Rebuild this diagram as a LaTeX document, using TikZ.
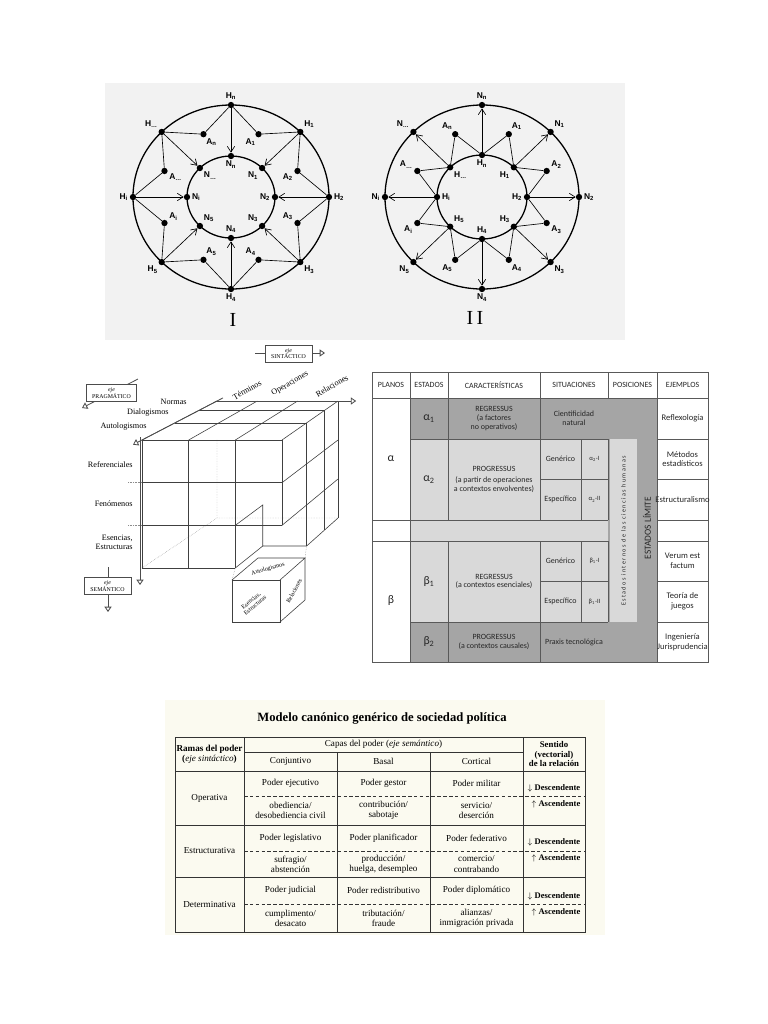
\documentclass[tikz,border=0pt]{standalone}
\usepackage{fontspec}
\setmainfont{Liberation Serif}
\newfontfamily\tabfont{Carlito}
\newfontfamily\widefont[LetterSpace=22]{Carlito}
\newfontfamily\labfont{Liberation Sans}
\usetikzlibrary{arrows.meta, positioning, calc}
\definecolor{panelgray}{HTML}{F2F2F2}
\definecolor{cream}{HTML}{FBFAF0}
\definecolor{darkcell}{HTML}{A5A5A5}
\definecolor{lightcell}{HTML}{D9D9D9}
\definecolor{tabrule}{HTML}{595959}

\begin{document}
\begin{tikzpicture}[
    x=0.03cm, y=-0.03cm,
    dot/.style={circle, fill, inner sep=0pt, minimum size=5.4pt},
    lab/.style={font=\labfont\bfseries\fontsize{7.2}{8}\selectfont, inner sep=1.2pt},
    ring/.style={line width=1.1pt},
    spoke/.style={line width=0.55pt},
    arr/.style={spoke, -{Straight Barb[length=1.7mm, width=2.2mm]}},
    cube/.style={line width=0.5pt, black!75},
    hidden/.style={line width=0.4pt, black!45, densely dotted},
    axisarr/.style={line width=0.7pt, black!70, -{Triangle[open, length=4.5pt, width=6pt]}},
    axbox/.style={draw=black!70, fill=white, line width=0.5pt, minimum width=1.4cm, minimum height=0.5cm, inner sep=1pt, align=center, font=\fontsize{5}{5.5}\selectfont},
    clab/.style={font=\fontsize{7}{7.5}\selectfont, inner sep=1pt, align=right},
    slab/.style={font=\fontsize{5.2}{5.4}\selectfont, inner sep=0pt, align=center},
    tcell/.style={font=\tabfont\fontsize{6.8}{7.6}\selectfont, align=center, text=black!85, inner sep=0pt},
    pcell/.style={font=\fontsize{7.8}{8.6}\selectfont, align=center, inner sep=0pt},
    tabline/.style={tabrule, line width=0.5pt},
    pline/.style={black!80, line width=0.6pt}
  ]
  \fill[white] (0,0) rectangle (768,1024);
  \useasboundingbox (0,0) rectangle (768,1024);

  % I and II
  \fill[panelgray] (105,83) rectangle (625,340);
  \coordinate (Ic) at (231,197);
  \coordinate (IIc) at (482,197);
  \draw[ring] (Ic) ellipse [x radius=2.94cm, y radius=2.76cm];
  \draw[ring] (Ic) ellipse [x radius=1.32cm, y radius=1.23cm];
  \draw[ring] (IIc) ellipse [x radius=2.91cm, y radius=2.76cm];
  \draw[ring] (IIc) ellipse [x radius=1.35cm, y radius=1.26cm];

  \foreach \nm [count=\k from 0] in {n,1,2,3,4,5,i,\ldots} {
    \pgfmathsetmacro\ang{90-45*\k}
    \pgfmathsetmacro\inv{\ang+180}
    \pgfmathsetmacro\aang{\ang+22.5}
    \pgfmathsetmacro\ainv{\aang+180}
    \node[dot, label={[lab]\ang:H\textsubscript{\nm}}] (IH\k) at ($(Ic)+({98*cos(\ang)},{-92*sin(\ang)})$) {};
    \node[dot, label={[lab]\inv:N\textsubscript{\nm}}] (IN\k) at ($(Ic)+({44*cos(\ang)},{-41*sin(\ang)})$) {};
    \node[dot, label={[lab]\ainv:A\textsubscript{\nm}}] (IA\k) at ($(Ic)+({72*cos(\aang)},{-68*sin(\aang)})$) {};
    \node[dot, label={[lab]\ang:N\textsubscript{\nm}}] (IIN\k) at ($(IIc)+({97*cos(\ang)},{-92*sin(\ang)})$) {};
    \node[dot, label={[lab]\inv:H\textsubscript{\nm}}] (IIH\k) at ($(IIc)+({45*cos(\ang)},{-42*sin(\ang)})$) {};
    \node[dot, label={[lab]\aang:A\textsubscript{\nm}}] (IIA\k) at ($(IIc)+({70*cos(\aang)},{-68*sin(\aang)})$) {};
  }
  \foreach \k in {0,...,7} {
    \pgfmathtruncatemacro\prev{mod(\k+7,8)}
    \draw[spoke] (IA\k) -- (IH\k);
    \draw[spoke] (IA\k) -- (IH\prev);
    \draw[arr] (IH\k) -- (IN\k);
    \draw[spoke] (IIA\k) -- (IIH\k);
    \draw[spoke] (IIA\k) -- (IIH\prev);
    \draw[arr] (IIH\k) -- (IIN\k);
  }
  \node[font=\fontsize{17}{17}\selectfont] (numI) at (233,320) {I};
  \node[font=\fontsize{17}{17}\selectfont] (numII) at (475,318) {I\,I};

  % cube
  \foreach \i in {0,...,3} \foreach \j in {0,...,3} {
    \coordinate (F\i\j) at ({142+140*\i/3},{440+128*\j/3});
    \coordinate (B\i\j) at ({217+121*\i/3},{401+117*\j/3});
  }
  \draw[hidden] ($(B00)!0.333!(B03)$) -- (B03) -- (B33);
  \draw[hidden] (F03) -- (B03);
  \draw[hidden] ($(F01)+(-14,0)$) -- (F01) ($(F02)+(-14,0)$) -- (F02);
  \draw[hidden] (F23) -- (232,580) ($(F33)!0.44!(B33)$) -- (305,558);
  \draw[cube] (F00) -- (F03) (F10) -- (F13) (F30) -- (F32);
  \draw[cube, line width=0.8pt] (F20) -- (F23);
  \draw[cube] (F00) -- (F30) (F01) -- (F31) (F02) -- (F32) (F03) -- (F23);
  \foreach \i in {0,...,3} \draw[cube] (F\i0) -- (B\i0);
  \foreach \t in {0.44,0.76} \draw[cube] ($(F00)!\t!(B00)$) -- ($(F30)!\t!(B30)$);
  \draw[cube] (B00) -- (B30);
  \foreach \t in {0.44,0.76,1} \draw[cube] ($(F30)!\t!(B30)$) -- ($(F33)!\t!(B33)$);
  \draw[cube] (F31) -- (B31) (F32) -- (B32) ($(F33)!0.44!(B33)$) -- (B33);
  \draw[cube] (F22) -- ($(F22)!0.44!(B22)$) -- ($(F23)!0.44!(B23)$) -- ($(F33)!0.44!(B33)$);
  \draw[cube] (F23) -- ($(F23)!0.44!(B23)$);

  \draw[axisarr] ($(B00)!-0.08!(F00)$) -- ($(B00)!1.12!(F00)$);
  \draw[axisarr] ($(B00)!-0.02!(B30)$) -- ($(B00)!1.15!(B30)$);
  \draw[axisarr] ($(F00)+(-2,-3)$) -- ($(F03)+(-2,17)$);

  \coordinate (synL) at (255,353);
  \coordinate (synR) at (325,353);
  \coordinate (pragU) at (138,379);
  \coordinate (pragD) at (82,408);
  \coordinate (semU) at (108,567);
  \coordinate (semD) at (108,612);
  \draw[axisarr] (synL) -- (synR);
  \draw[axisarr] (pragU) -- (pragD);
  \draw[axisarr] (semU) -- (semD);
  \node[axbox] (synbox) at (288.5,353.5) {\textit{eje}\\SINTÁCTICO};
  \node[axbox, minimum width=1.5cm] (pragbox) at (111.5,393) {\textit{eje}\\PRAGMÁTICO};
  \node[axbox] (sembox) at (107.5,586) {\textit{eje}\\SEMÁNTICO};

  \node[clab, anchor=east] (dnorm) at (188,402) {Normas};
  \node[clab, anchor=east] (ddial) at (170,413) {Dialogismos};
  \node[clab, anchor=east] (dauto) at (148,427) {Autologismos};
  \node[clab, anchor=east] (rref) at (134,465) {Referenciales};
  \node[clab, anchor=east] (rfen) at (134,504) {Fenómenos};
  \node[clab, anchor=east] (resen) at (134,542) {Esencias,\\Estructuras};
  \node[clab, rotate=30] (cterm) at (247,390) {Términos};
  \node[clab, rotate=30] (coper) at (290,384) {Operaciones};
  \node[clab, rotate=30] (crel) at (332,386) {Relaciones};

  \draw[cube] (232,580) -- (280,580) -- (280,622) -- (232,622) -- cycle;
  \draw[cube] (232,580) -- (258,558) -- (305,558) -- (280,580);
  \draw[cube] (305,558) -- (305,600) -- (280,622);
  \node[slab, rotate=16] (sauto) at (268,569) {Autologismos};
  \node[slab, rotate=40] (sesen) at (253,603) {Esencias,\\Estructuras};
  \node[slab, rotate=62] (srel) at (294,591) {Relaciones};

  % estados table
  \fill[darkcell] (410,398) rectangle (608,439);
  \fill[lightcell] (410,439) rectangle (608,622);
  \fill[darkcell] (410,622) rectangle (608,662);
  \fill[darkcell] (608,398) rectangle (657,662);
  \fill[lightcell] (610,439) rectangle (637,622);
  \draw[tabline] (372,372) rectangle (708,662);
  \draw[tabline] (372,398) -- (708,398);
  \foreach \cx in {410,657} \draw[tabline] (\cx,372) -- (\cx,662);
  \foreach \cx in {448,540} \draw[tabline] (\cx,372) -- (\cx,520) (\cx,541) -- (\cx,662);
  \draw[tabline] (608,372) -- (608,398) (608,439) -- (608,520) (608,541) -- (608,622);
  \draw[tabline] (581,439) -- (581,520) (581,541) -- (581,622);
  \draw[tabline] (410,439) -- (608,439) (657,439) -- (708,439);
  \draw[tabline] (540,479) -- (608,479) (657,479) -- (708,479);
  \draw[tabline] (372,520) -- (608,520) (657,520) -- (708,520);
  \draw[tabline] (372,541) -- (608,541) (657,541) -- (708,541);
  \draw[tabline] (540,581) -- (608,581) (657,581) -- (708,581);
  \draw[tabline] (410,622) -- (608,622) (657,622) -- (708,622);

  \node[tcell] (hplan) at (391,385) {PLANOS};
  \node[tcell] (hest) at (429,385) {ESTADOS};
  \node[tcell] (hcar) at (494,385) {CARACTERÍSTICAS};
  \node[tcell] (hsit) at (574,385) {SITUACIONES};
  \node[tcell] (hpos) at (632.5,385) {POSICIONES};
  \node[tcell] (hejm) at (682.5,385) {EJEMPLOS};
  \node[tcell, font=\tabfont\fontsize{10}{10}\selectfont] (palpha) at (391,459) {α};
  \node[tcell, font=\tabfont\fontsize{10}{10}\selectfont] (pbeta) at (391,601) {β};
  \node[tcell, font=\tabfont\fontsize{10}{10}\selectfont] (ealpha1) at (429,418.5) {α\textsubscript{1}};
  \node[tcell, font=\tabfont\fontsize{10}{10}\selectfont] (ealpha2) at (429,479.5) {α\textsubscript{2}};
  \node[tcell, font=\tabfont\fontsize{10}{10}\selectfont] (ebeta1) at (429,581.5) {β\textsubscript{1}};
  \node[tcell, font=\tabfont\fontsize{10}{10}\selectfont] (ebeta2) at (429,642) {β\textsubscript{2}};
  \node[tcell] (calpha1) at (494,418.5) {REGRESSUS\\(a factores\\no operativos)};
  \node[tcell] (calpha2) at (494,479.5) {PROGRESSUS\\[2pt](a partir de operaciones\\a contextos envolventes)};
  \node[tcell] (cbeta1) at (494,581.5) {REGRESSUS\\(a contextos esenciales)};
  \node[tcell] (cbeta2) at (494,642) {PROGRESSUS\\(a contextos causales)};
  \node[tcell] (salpha1) at (574,418.5) {Cientificidad\\natural};
  \node[tcell] (sgen1) at (560.5,459) {Genérico};
  \node[tcell] (sesp1) at (560.5,499.5) {Específico};
  \node[tcell, font=\tabfont\fontsize{5.5}{6}\selectfont] (sa2i) at (594.5,459) {α\textsubscript{2}-I};
  \node[tcell, font=\tabfont\fontsize{5.5}{6}\selectfont] (sa2ii) at (594.5,499.5) {α\textsubscript{2}-II};
  \node[tcell] (sgen2) at (560.5,561) {Genérico};
  \node[tcell] (sesp2) at (560.5,601.5) {Específico};
  \node[tcell, font=\tabfont\fontsize{5.5}{6}\selectfont] (sb1i) at (594.5,561) {β\textsubscript{1}-I};
  \node[tcell, font=\tabfont\fontsize{5.5}{6}\selectfont] (sb1ii) at (594.5,601.5) {β\textsubscript{1}-II};
  \node[tcell] (sbeta2) at (574,642) {Praxis tecnológica};
  \node[tcell, font=\widefont\fontsize{5.3}{6}\selectfont, rotate=90] (pint) at (623.5,531) {Estados internos de las ciencias humanas};
  \node[tcell, font=\tabfont\fontsize{8}{8}\selectfont, rotate=90] (plim) at (647,528) {ESTADOS LÍMITE};
  \node[tcell, font=\tabfont\fontsize{7.3}{8.4}\selectfont] (xref) at (682.5,418.5) {Reflexología};
  \node[tcell, font=\tabfont\fontsize{7.3}{8.4}\selectfont] (xmet) at (682.5,459) {Métodos\\estadísticos};
  \node[tcell, font=\tabfont\fontsize{7.3}{8.4}\selectfont] (xestr) at (682.5,499.5) {Estructuralismo};
  \node[tcell, font=\tabfont\fontsize{7.3}{8.4}\selectfont] (xver) at (682.5,561) {Verum est\\factum};
  \node[tcell, font=\tabfont\fontsize{7.3}{8.4}\selectfont] (xteo) at (682.5,601.5) {Teoría de\\juegos};
  \node[tcell, font=\tabfont\fontsize{7.3}{8.4}\selectfont] (xing) at (682.5,642) {Ingeniería\\Jurisprudencia};

  % sociedad politica table
  \fill[cream] (165,700) rectangle (605,935);
  \node[font=\bfseries\fontsize{10.8}{12}\selectfont] (ptitle) at (382,718) {Modelo canónico genérico de sociedad política};
  \draw[pline] (175,737) rectangle (585,932);
  \draw[pline] (175,771) -- (585,771) (175,825) -- (585,825) (175,877) -- (585,877);
  \draw[pline] (244,752) -- (523,752);
  \draw[pline] (244,737) -- (244,932) (523,737) -- (523,932);
  \draw[pline] (337,752) -- (337,932) (430,752) -- (430,932);
  \draw[pline, densely dashed, line width=0.4pt] (244,796) -- (585,796) (244,851) -- (585,851) (244,904) -- (585,904);

  \node[pcell, font=\bfseries\fontsize{7.8}{8.6}\selectfont] (hramas) at (209.5,754) {Ramas del poder\\(\textit{\mdseries eje sintáctico})};
  \node[pcell] (hcapas) at (383.5,744.5) {Capas del poder (\textit{eje semántico})};
  \node[pcell] (hconj) at (290.5,761.5) {Conjuntivo};
  \node[pcell] (hbasal) at (383.5,761.5) {Basal};
  \node[pcell] (hcort) at (476.5,761.5) {Cortical};
  \node[pcell, font=\bfseries\fontsize{7.5}{8.3}\selectfont] (hsent) at (554,754) {Sentido\\(vectorial)\\de la relación};
  \node[pcell] (rop) at (209.5,798) {Operativa};
  \node[pcell] (rest) at (209.5,851) {Estructurativa};
  \node[pcell] (rdet) at (209.5,904.5) {Determinativa};
  \node[pcell] (opa) at (290.5,783.5) {Poder ejecutivo};
  \node[pcell] (opb) at (383.5,783.5) {Poder gestor};
  \node[pcell] (opc) at (476.5,783.5) {Poder militar};
  \node[pcell] (opd) at (290.5,810.5) {obediencia/\\desobediencia civil};
  \node[pcell] (ope) at (383.5,810.5) {contribución/\\sabotaje};
  \node[pcell] (opf) at (476.5,810.5) {servicio/\\deserción};
  \node[pcell] (esa) at (290.5,838) {Poder legislativo};
  \node[pcell] (esb) at (383.5,838) {Poder planificador};
  \node[pcell] (esc) at (476.5,838) {Poder federativo};
  \node[pcell] (esd) at (290.5,864) {sufragio/\\abstención};
  \node[pcell] (ese) at (383.5,864) {producción/\\huelga, desempleo};
  \node[pcell] (esf) at (476.5,864) {comercio/\\contrabando};
  \node[pcell] (dea) at (290.5,890.5) {Poder judicial};
  \node[pcell] (deb) at (383.5,890.5) {Poder redistributivo};
  \node[pcell] (dec) at (476.5,890.5) {Poder diplomático};
  \node[pcell] (ded) at (290.5,918) {cumplimento/\\desacato};
  \node[pcell] (dee) at (383.5,918) {tributación/\\fraude};
  \node[pcell] (def) at (476.5,918) {alianzas/\\inmigración privada};
  \foreach \yd/\ya/\nm in {788/804/op, 842/858/es, 896/912/de} {
    \node[pcell, font=\bfseries\fontsize{7.3}{8}\selectfont] (\nm desc) at (554,\yd) {$\downarrow$ Descendente};
    \node[pcell, font=\bfseries\fontsize{7.3}{8}\selectfont] (\nm asc) at (556,\ya) {$\uparrow$ Ascendente};
  }
\end{tikzpicture}
\end{document}
